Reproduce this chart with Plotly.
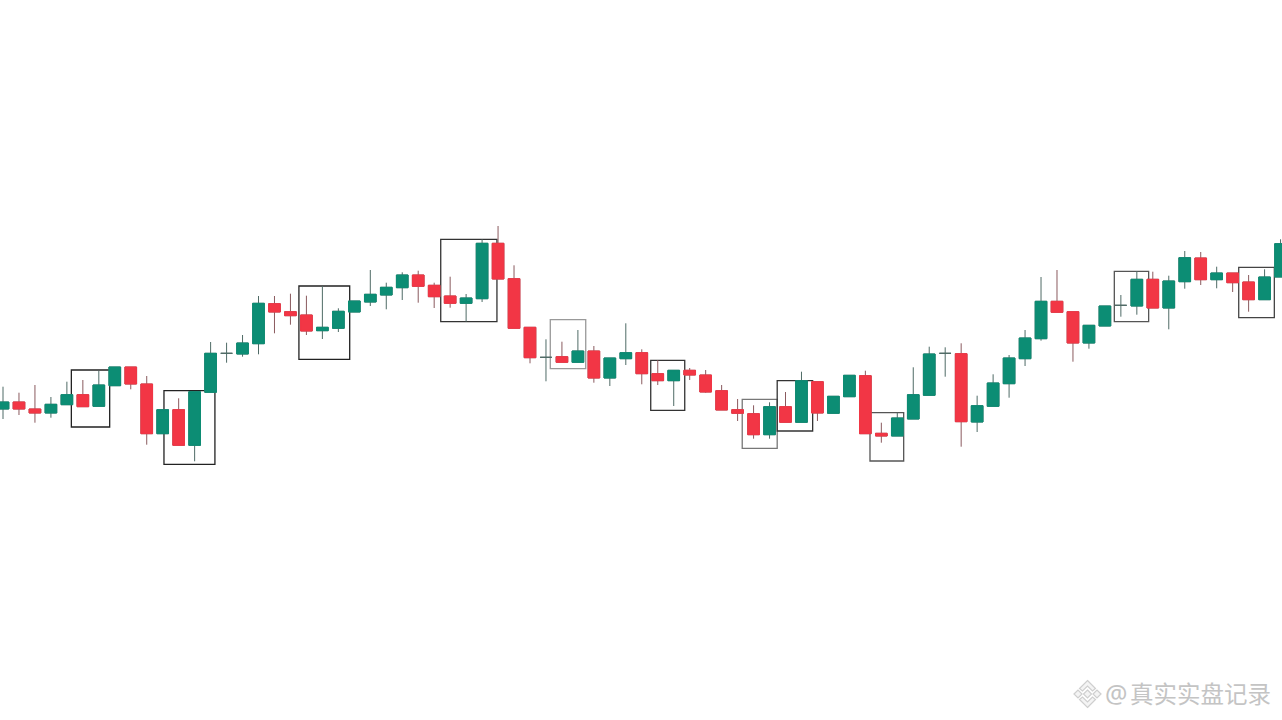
import plotly.graph_objects as go

opens = [311,318,311,307,315.3,325.3,313.7,334.3,353,336,286.3,310.3,274.7,327.7,366.7,366,376.3,416.3,408.3,405,
         389.3,391.7,408,418,425,432.3,445,434.7,424,416.7,421.3,476.7,441.3,392.7,362.7,363.3,357.7,369,342,361.3,
         367.3,346.3,339.3,349.7,345,329.3,310.3,306.3,285.3,313.3,297.7,338.3,306.7,323.3,344.3,286.7,284,301,324.7,366.7,
         366.3,298,313.7,336.3,361.3,381.3,418.7,408.3,377,394,414.7,414,440.7,412,438.3,462,440.3,447,438,420.3,443]
closes = [318,311,307,315.7,325.3,313.3,335,353,336,286.3,310.3,274.7,328.3,366.7,366.7,377,416.7,408,404.3,389,
          392.7,408.7,419,425.7,432.7,445,433.7,423.3,416.7,422,476.7,441,391.7,362.3,362.7,357.7,369,342,362,367.3,
          346.3,339.3,349.7,345,328,310,306.7,285.3,313.3,297.7,339.3,307,323.7,344.7,286.3,284,302,325.3,366,366.7,
          298.3,314.3,337,362,382,418.7,407.7,377,394.7,414,414.7,440.7,412,439,462.3,440.3,447,437.3,420.3,443,476.3]
highs = [333.3,327.3,335,323,338.3,340,349.3,353,353,344,310.3,321.7,328.3,378,377.3,385,424,424,426.3,424.3,
         434,411.7,419,450,437.3,447.7,449.3,437.3,443.3,426,480.7,494,454.7,392.7,380.7,378.3,390,374,362,396.7,
         370.7,360,349.7,352,350,335,321,314.7,317.7,328,348.3,338.3,323.7,344.7,349.3,297.3,307.3,352.7,373.3,372.7,
         376.7,324.3,345.7,365,390,443,450,408.3,394.7,414,425,449,448.3,444.3,469,468,453.3,447,445,450.7,480.7]
lows = [301,305,297.3,302.3,315.3,313.3,313.7,334.3,330.7,275.3,286.3,274.7,258.7,327.7,357.3,363.3,365.7,386.7,395.3,385,
        381,388,408,414,410.7,420,417.3,412,412.3,398.3,418,441,391.7,356.7,338.7,357.7,357.7,337.3,334,355,
        335.7,335,314,340,327.3,310,299,281.3,281.3,297.7,297.7,299,306.7,323.3,286.3,277.3,284,301,324.7,343.3,
        273.3,288,313.7,322.3,354,379.3,407.7,358.3,371.3,394,403.3,405.3,412,390.7,431.3,435,431.7,428,408.3,420.3,443]
candle_index = list(range(len(opens)))

box_left = [4.28,10.08,18.53,27.41,34.27,40.56,46.29,48.48,54.29,69.59,77.38]
box_right = [6.68,13.27,21.71,30.93,36.49,42.69,48.48,50.70,56.40,71.74,79.61]
box_top = [350,329.3,434,480.7,400.3,359.7,320.7,339.3,307.3,448.7,452.7]
box_bottom = [293,255.7,360.7,398.3,351.3,309.7,271.7,289,259,398.3,402.3]
box_colors = ["#222222","#222222","#222222","#333333","#999999","#333333","#777777","#333333","#555555","#555555","#444444"]

GREEN = "#0c8d74"
RED = "#f23645"
WICK_UP = "#4f6b66"
WICK_DOWN = "#8a5a5e"

is_doji = [o == c for o, c in zip(opens, closes)]
body_open = [None if d else o for d, o in zip(is_doji, opens)]
body_close = [None if d else c for d, c in zip(is_doji, closes)]
body_high = [None if d else max(o, c) for d, o, c in zip(is_doji, opens, closes)]
body_low = [None if d else min(o, c) for d, o, c in zip(is_doji, opens, closes)]

fig = go.Figure()
fig.add_trace(go.Candlestick(
    x=candle_index, open=opens, high=highs, low=lows, close=closes,
    increasing=dict(line=dict(color=WICK_UP, width=1), fillcolor=WICK_UP),
    decreasing=dict(line=dict(color=WICK_DOWN, width=1), fillcolor=WICK_DOWN),
    showlegend=False, hoverinfo="skip"))
fig.add_trace(go.Candlestick(
    x=candle_index, open=body_open, high=body_high, low=body_low, close=body_close,
    increasing=dict(line=dict(color=GREEN, width=1), fillcolor=GREEN),
    decreasing=dict(line=dict(color=RED, width=1), fillcolor=RED),
    showlegend=False, hoverinfo="skip"))

shapes = []
for l, r, t, b, col in zip(box_left, box_right, box_top, box_bottom, box_colors):
    shapes.append(dict(type="rect", xref="x", yref="y", x0=l, x1=r, y0=b, y1=t,
                       line=dict(color=col, width=1.3), fillcolor="rgba(0,0,0,0)", layer="below"))

# watermark logo, placed in page fractions
W, H = 1282, 720
def path(points):
    return "M" + " L".join(f"{x/W:.5f},{1-y/H:.5f}" for x, y in points) + " Z"
cx, cy = 1087.5, 694
logo_parts = [
    [(cx, cy-4), (cx+4, cy), (cx, cy+4), (cx-4, cy)],
    [(cx-13.5, cy), (cx-9.5, cy-4), (cx-5.5, cy), (cx-9.5, cy+4)],
    [(cx+13.5, cy), (cx+9.5, cy-4), (cx+5.5, cy), (cx+9.5, cy+4)],
    [(cx, cy-13.5), (cx+8, cy-5.5), (cx+5, cy-3), (cx, cy-8), (cx-5, cy-3), (cx-8, cy-5.5)],
    [(cx, cy+13.5), (cx+8, cy+5.5), (cx+5, cy+3), (cx, cy+8), (cx-5, cy+3), (cx-8, cy+5.5)],
]
for p in logo_parts:
    shapes.append(dict(type="path", xref="paper", yref="paper", path=path(p),
                       line=dict(color="#cfcfcf", width=1.2), fillcolor="#f4f4f4", layer="above"))

fig.update_layout(
    width=W, height=H, margin=dict(l=0, r=0, t=0, b=0, pad=0),
    paper_bgcolor="white", plot_bgcolor="white", boxmode="overlay", boxgap=0.27, boxgroupgap=0,
    xaxis=dict(range=[-0.188, 80.09], visible=False, rangeslider=dict(visible=False), fixedrange=True),
    yaxis=dict(range=[0, 720], visible=False, fixedrange=True),
    shapes=shapes, showlegend=False,
    annotations=[
        dict(text="@", xref="paper", yref="paper", x=1116/W, y=1-693/H,
             xanchor="center", yanchor="middle", showarrow=False,
             font=dict(family="Noto Sans", size=25, color="#c4c4c4")),
        dict(text="真实实盘记录", xref="paper", yref="paper", x=1273/W, y=1-693/H,
             xanchor="right", yanchor="middle", showarrow=False,
             font=dict(family="Noto Sans CJK SC", size=23.5, color="#c4c4c4")),
    ],
)

fig.write_html("out.html", config=dict(displayModeBar=False),
               post_script="document.body.style.margin='0';document.body.style.overflow='hidden';")
